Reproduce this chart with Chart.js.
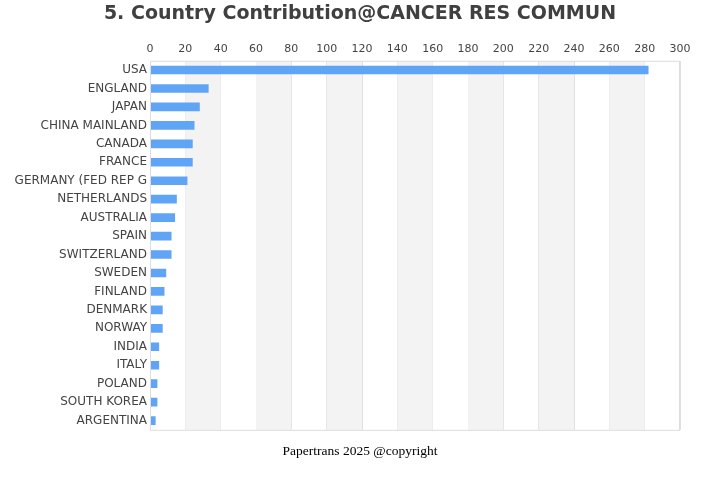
<!DOCTYPE html>
<html>
<head>
<meta charset="utf-8">
<script src="https://cdn.jsdelivr.net/npm/chart.js@4"></script>
<style>
    html, body { margin: 0; padding: 0; background: #ffffff; }
    #wrap { width: 720px; height: 480px; }
</style>
</head>
<body>
<div id="wrap"><canvas id="countryChart"></canvas></div>
<script>
const countries = ["USA", "ENGLAND", "JAPAN", "CHINA MAINLAND", "CANADA", "FRANCE", "GERMANY (FED REP G",
    "NETHERLANDS", "AUSTRALIA", "SPAIN", "SWITZERLAND", "SWEDEN", "FINLAND", "DENMARK", "NORWAY",
    "INDIA", "ITALY", "POLAND", "SOUTH KOREA", "ARGENTINA"];
const counts = [282, 33, 28, 25, 24, 24, 21, 15, 14, 12, 12, 9, 8, 7, 7, 5, 5, 4, 4, 3];
const xMax = 300;
const xStep = 20;

// shade every other band between x ticks, and box the plot area
const bandPlugin =
{
    id: "bands",
    beforeDatasetsDraw(chart)
    {
        const ctx = chart.ctx;
        const area = chart.chartArea;
        const x = chart.scales.x;
        ctx.save();
        ctx.fillStyle = "#f3f3f3";
        for (let v = xStep; v < xMax; v += 2 * xStep)
        {
            const a = x.getPixelForValue(v);
            const b = x.getPixelForValue(v + xStep);
            ctx.fillRect(a, area.top, b - a, area.bottom - area.top);
        }
        ctx.restore();
    },
    afterDraw(chart)
    {
        const ctx = chart.ctx;
        const area = chart.chartArea;
        ctx.save();
        ctx.strokeStyle = "#dddddd";
        ctx.lineWidth = 1;
        ctx.strokeRect(area.left + 0.5, area.top + 0.5, area.right - area.left - 1, area.bottom - area.top);
        ctx.restore();
    }
};

new Chart(document.getElementById("countryChart"),
{
    type: "bar",
    data:
    {
        labels: countries,
        datasets:
        [
            {
                data: counts,
                backgroundColor: "#60a5f5",
                barThickness: 8
            }
        ]
    },
    plugins: [bandPlugin],
    options:
    {
        indexAxis: "y",
        responsive: true,
        maintainAspectRatio: false,
        animation: false,
        layout:
        {
            padding: { left: 0, right: 0, top: 0, bottom: 6 }
        },
        scales:
        {
            x:
            {
                position: "top",
                min: 0,
                max: xMax,
                ticks:
                {
                    stepSize: xStep,
                    color: "#444444",
                    font: { family: "DejaVu Sans", size: 11 },
                    padding: 5
                },
                grid:
                {
                    color: "#e0e0e0",
                    drawTicks: false
                },
                border: { display: false },
                afterFit(scale) { scale.height = 24; }
            },
            y:
            {
                ticks:
                {
                    color: "#444444",
                    font: { family: "DejaVu Sans", size: 12 },
                    padding: 3,
                    autoSkip: false
                },
                grid: { display: false, drawTicks: false },
                border: { display: false },
                afterFit(scale) { scale.width = 150; }
            },
            // empty right-hand strip so the titles stay centred on the whole canvas
            gap:
            {
                type: "category",
                position: "right",
                ticks: { display: false },
                grid: { display: false, drawTicks: false },
                border: { display: false },
                afterFit(scale) { scale.width = 40; }
            }
        },
        plugins:
        {
            legend: { display: false },
            tooltip: { enabled: false },
            title:
            {
                display: true,
                text: "5. Country Contribution@CANCER RES COMMUN",
                color: "#404040",
                font: { family: "DejaVu Sans", size: 19, weight: "bold" },
                padding: { top: 3, bottom: 11 }
            },
            subtitle:
            {
                display: true,
                position: "bottom",
                text: "Papertrans 2025 @copyright",
                color: "#000000",
                font: { family: "Liberation Serif", size: 13.5, weight: "normal" },
                padding: { top: 14, bottom: 14 }
            }
        }
    }
});
</script>
</body>
</html>
